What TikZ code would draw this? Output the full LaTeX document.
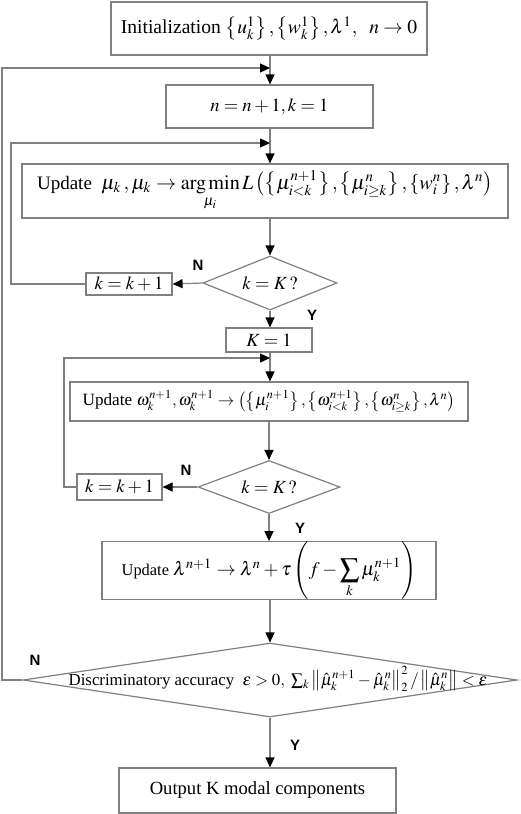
\documentclass[tikz,border=0pt]{standalone}
\usepackage{amsmath}
\usepackage{mathptmx}
\usepackage{fontspec}
\setmainfont{Liberation Serif}
\newfontfamily\ynfont{Liberation Sans}
\usetikzlibrary{arrows.meta,shapes.geometric}
\definecolor{linegray}{RGB}{128,128,128}
\tikzset{
  box/.style={draw=linegray, line width=0.6pt, inner sep=0pt, align=center},
  dia/.style={diamond, draw=linegray, line width=0.6pt, inner sep=0pt},
  conn/.style={draw=linegray, line width=0.6pt, -{Triangle[length=5pt,width=4.5pt,color=black]}},
  plain/.style={draw=linegray, line width=0.6pt},
  yn/.style={font=\ynfont\bfseries\fontsize{7.5}{8}\selectfont, inner sep=0pt}
}
\newcommand{\fsz}[1]{\fontsize{#1}{#1}\selectfont}
\begin{document}
\begin{tikzpicture}[x=0.5pt,y=-0.5pt]
\useasboundingbox (0,0) rectangle (520,814);
\fill[white] (0,0) rectangle (520,814);
\fsz{9.3}
% nodes
\node[box, minimum width=158pt, minimum height=26.5pt] (init) at (269,28.5)
  {\fsz{9.8}Initialization $\left\{u_k^1\right\},\left\{w_k^1\right\},\lambda^1,\ \ n\to 0$};
\node[box, minimum width=103.5pt, minimum height=21.5pt] (b2) at (269.5,106.5)
  {$n=n+1,k=1$};
\node[box, minimum width=243pt, minimum height=27pt] (b3) at (265,191)
  {\fsz{9.5}Update\enspace {\fsz{10.1}$\mu_k\,,\mu_k\to\mathop{\mathrm{arg\,min}}\limits_{\mu_i} L\left(\left\{\mu_{i<k}^{n+1}\right\},\left\{\mu_{i\geq k}^{n}\right\},\left\{w_i^n\right\},\lambda^n\right)$}};
\node[dia, minimum width=67pt, minimum height=27pt] (d1) at (270,283) {};
\node[inner sep=0pt] (d1t) at (270,283) {$k=K\,?$};
\node[box, minimum width=43pt, minimum height=11pt] (k1) at (129,284) {$k=k+1$};
\node[box, minimum width=43pt, minimum height=12pt] (K1) at (269,340) {$K=1$};
\node[box, minimum width=199pt, minimum height=19.5pt] (b4) at (269,401.5)
  {\fsz{8.6}Update {\fsz{8.3}$\omega_k^{n+1},\omega_k^{n+1}\to\left(\left\{\mu_i^{n+1}\right\},\left\{\omega_{i<k}^{n+1}\right\},\left\{\omega_{i\geq k}^{n}\right\},\lambda^n\right)$}};
\node[dia, minimum width=71pt, minimum height=26.5pt] (d2) at (269,487) {};
\node[inner sep=0pt] (d2t) at (269,487) {$k=K\,?$};
\node[box, minimum width=42.5pt, minimum height=13pt] (k2) at (119.5,487) {$k=k+1$};
\node[box, minimum width=167pt, minimum height=27.5pt] (b5) at (269,570.5)
  {\fsz{8.2}Update {\fsz{9.6}$\lambda^{n+1}\to\lambda^n+\tau\left(f-\displaystyle\sum_k\mu_k^{n+1}\right)$}};
\node[dia, minimum width=247pt, minimum height=37pt] (d3) at (270,680) {};
\node[inner sep=0pt] (d3t) at (278,679)
  {\fsz{8.4}Discriminatory accuracy\ \ $\varepsilon>0,\ \sum_k\left\|\hat{\mu}_k^{n+1}-\hat{\mu}_k^n\right\|_2^2/\left\|\hat{\mu}_k^n\right\|<\varepsilon$};
\node[box, minimum width=138.5pt, minimum height=22.5pt] (out) at (257.5,790.5)
  {Output K modal components};
% coordinates for loops
\coordinate (m1) at (270,68);
\coordinate (m2) at (270,143);
\coordinate (m3) at (270,358);
% main flow
\draw[plain] (init.south -| m1) -- (m1);
\draw[conn] (m1) -- (b2.north -| m1);
\draw[plain] (b2.south -| m2) -- (m2);
\draw[conn] (m2) -- (b3.north -| m2);
\draw[conn] (b3.south -| d1.north) -- (d1.north);
\draw[conn] (d1.south) -- (K1.north -| d1.south);
\draw[plain] (K1.south -| m3) -- (m3);
\draw[conn] (m3) -- (b4.north -| m3);
\draw[conn] (b4.south -| d2.north) -- (d2.north);
\draw[conn] (d2.south) -- (b5.north -| d2.south);
\draw[conn] (b5.south -| d3.north) -- (d3.north);
\draw[conn] (d3.south) -- (out.north -| d3.south);
% N branches
\draw[conn] (d1.west) -- (k1.east);
\draw[conn] (k1.west) -- (11,284) -- (11,143) -- (m2);
\draw[conn] (d2.west) -- (k2.east);
\draw[conn] (k2.west) -- (64,487) -- (64,358) -- (m3);
\draw[conn] (d3.west) -- (2,680) -- (2,68) -- (m1);
% labels
\node[yn] (n1) at (198,265) {N};
\node[yn] (y1) at (312,315) {Y};
\node[yn] (n2) at (186,470) {N};
\node[yn] (y2) at (300,528) {Y};
\node[yn] (n3) at (35,660) {N};
\node[yn] (y3) at (295,745) {Y};
\end{tikzpicture}
\end{document}
